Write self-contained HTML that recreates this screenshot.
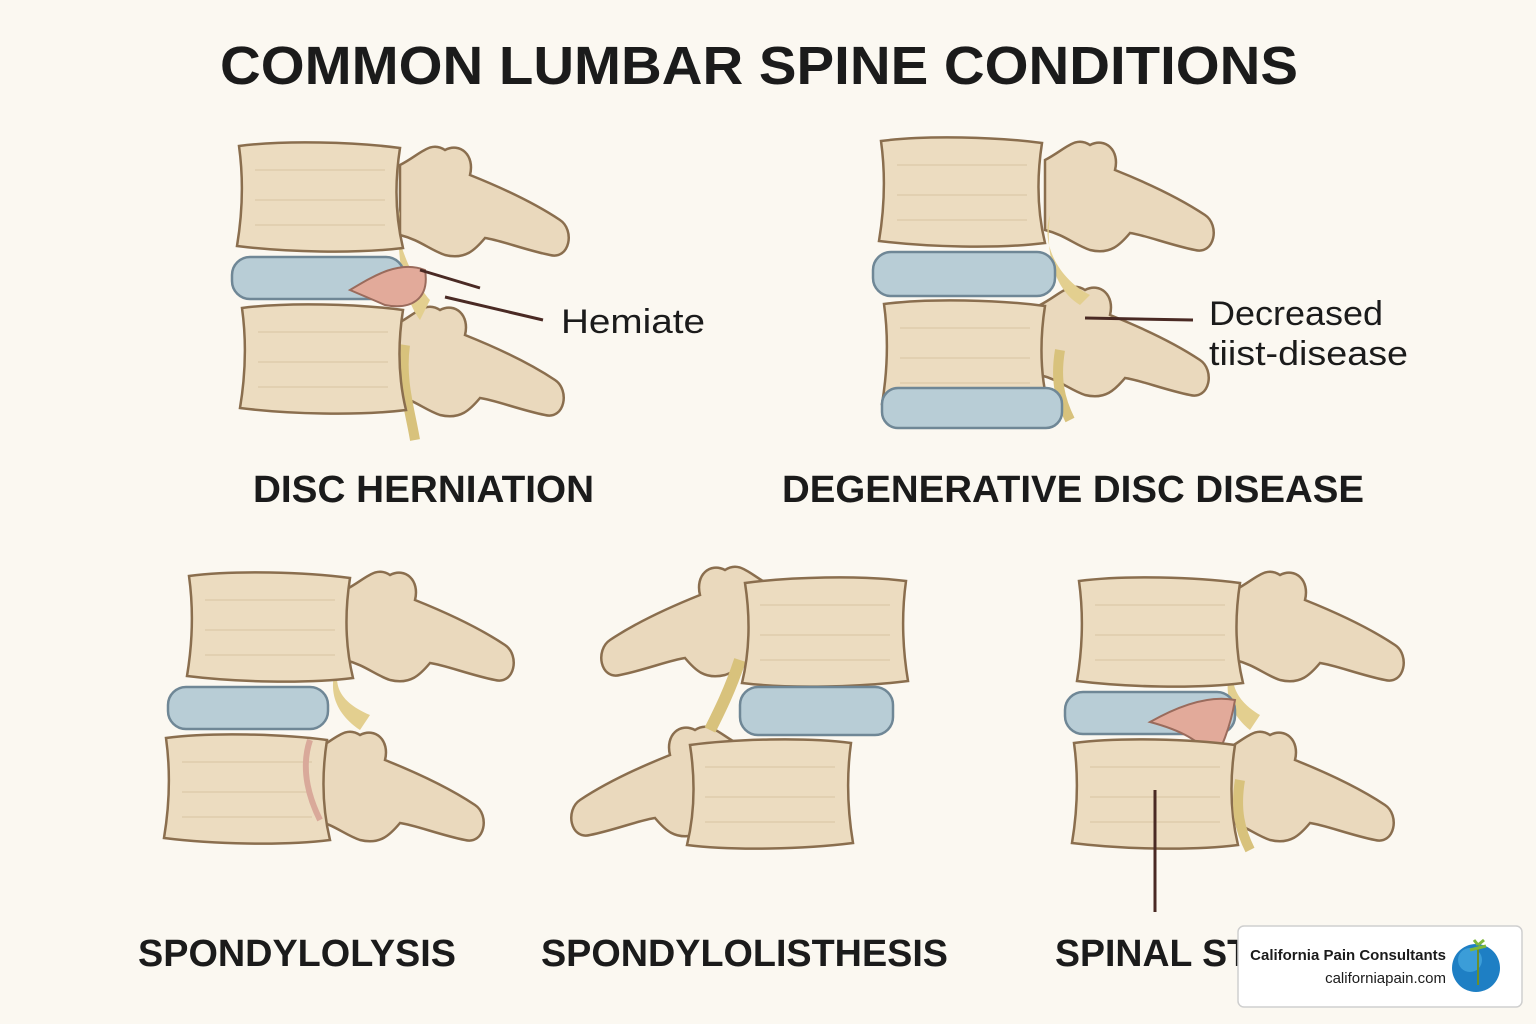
<!DOCTYPE html>
<html><head><meta charset="utf-8"><style>
html,body{margin:0;padding:0;background:#fbf8f1;}
svg{display:block}
text{font-family:"Liberation Sans",sans-serif;fill:#1b1b1b}
</style></head><body>
<svg width="1536" height="1024" viewBox="0 0 1536 1024" xmlns="http://www.w3.org/2000/svg">
<defs>
<g id="post">
 <path d="M0,15 C20,5 30,-10 45,0 C60,-8 75,5 70,25 C95,35 130,50 160,70 C175,80 170,110 150,105 C125,100 100,90 85,88 C75,100 65,110 45,105 C30,100 20,90 0,85 Z" fill="#ead9bd" stroke="#8a6e4e" stroke-width="2.5"/>
</g>
<g id="body">
 <path d="M4,6 C50,0 120,2 165,8 C160,40 160,75 168,108 C120,114 50,112 2,106 C8,70 8,35 4,6 Z" fill="#ecdcc0" stroke="#8a6e4e" stroke-width="2.5"/>
 <path d="M20,30 L150,30 M20,60 L150,60 M20,85 L150,85" stroke="#d8c4a2" stroke-width="1"/>
</g>
</defs>
<rect width="1536" height="1024" fill="#fbf8f1"/>
<text x="220" y="84" font-size="54" font-weight="bold" textLength="1078" lengthAdjust="spacingAndGlyphs">COMMON LUMBAR SPINE CONDITIONS</text>

<!-- Panel 1 -->
<use href="#post" transform="translate(400,150)"/>
<use href="#post" transform="translate(395,310)"/>
<path d="M400,210 C390,240 420,290 430,300 L420,320 C405,300 395,260 400,210Z" fill="#e3cf8f"/>
<path d="M405,345 C400,380 410,410 415,440" stroke="#d8c27c" stroke-width="10" fill="none"/>
<use href="#body" transform="translate(235,140)"/>
<rect x="232" y="257" width="172" height="42" rx="18" fill="#b8cdd6" stroke="#6f8796" stroke-width="2.5"/>
<path d="M350,290 C375,275 400,260 425,270 C430,300 410,310 385,305 Z" fill="#e2aa9a" stroke="#9a6b5c" stroke-width="2"/>
<use href="#body" transform="translate(238,302)"/>
<path d="M420,270 L480,288 M445,297 L543,320" stroke="#4a2a24" stroke-width="3"/>
<text x="561" y="333" font-size="34" textLength="144" lengthAdjust="spacingAndGlyphs">Hemiate</text>
<text x="253" y="502" font-size="38" font-weight="bold" textLength="341" lengthAdjust="spacingAndGlyphs">DISC HERNIATION</text>

<!-- Panel 2 -->
<use href="#post" transform="translate(1045,145)"/>
<use href="#post" transform="translate(1040,290)"/>
<path d="M1050,215 C1040,245 1060,280 1090,295 L1080,305 C1055,290 1045,255 1050,215Z" fill="#e3cf8f"/>
<path d="M1060,350 C1055,380 1060,400 1070,420" stroke="#d8c27c" stroke-width="10" fill="none"/>
<use href="#body" transform="translate(877,135)"/>
<rect x="873" y="252" width="182" height="44" rx="18" fill="#b8cdd6" stroke="#6f8796" stroke-width="2.5"/>
<use href="#body" transform="translate(880,298)"/>
<rect x="882" y="388" width="180" height="40" rx="16" fill="#b8cdd6" stroke="#6f8796" stroke-width="2.5"/>
<path d="M1085,318 L1193,320" stroke="#4a2a24" stroke-width="3"/>
<text x="1209" y="325" font-size="34" textLength="174" lengthAdjust="spacingAndGlyphs">Decreased</text>
<text x="1209" y="365" font-size="34" textLength="199" lengthAdjust="spacingAndGlyphs">tiist-disease</text>
<text x="782" y="502" font-size="38" font-weight="bold" textLength="582" lengthAdjust="spacingAndGlyphs">DEGENERATIVE DISC DISEASE</text>

<!-- Panel 3 -->
<use href="#post" transform="translate(345,575)"/>
<use href="#post" transform="translate(315,735)"/>
<path d="M345,650 C330,680 335,700 370,715 L360,730 C330,710 325,680 345,650Z" fill="#e3cf8f"/>
<use href="#body" transform="translate(185,570)"/>
<rect x="168" y="687" width="160" height="42" rx="18" fill="#b8cdd6" stroke="#6f8796" stroke-width="2.5"/>
<use href="#body" transform="translate(162,732)"/>
<path d="M310,740 C300,770 310,800 320,820" stroke="#d9a99a" stroke-width="6" fill="none"/>
<text x="138" y="966" font-size="38" font-weight="bold" textLength="318" lengthAdjust="spacingAndGlyphs">SPONDYLOLYSIS</text>

<!-- Panel 4 (mirrored) -->
<use href="#post" transform="translate(770,570) scale(-1,1)"/>
<use href="#post" transform="translate(740,730) scale(-1,1)"/>
<path d="M740,660 C730,690 720,710 710,730" stroke="#d8c27c" stroke-width="12" fill="none"/>
<use href="#body" transform="translate(910,575) scale(-1,1)"/>
<rect x="740" y="687" width="153" height="48" rx="18" fill="#b8cdd6" stroke="#6f8796" stroke-width="2.5"/>
<use href="#body" transform="translate(855,737) scale(-1,1)"/>
<text x="541" y="966" font-size="38" font-weight="bold" textLength="407" lengthAdjust="spacingAndGlyphs">SPONDYLOLISTHESIS</text>

<!-- Panel 5 -->
<use href="#post" transform="translate(1235,575)"/>
<use href="#post" transform="translate(1225,735)"/>
<path d="M1240,650 C1225,680 1235,700 1260,715 L1250,730 C1225,710 1220,680 1240,650Z" fill="#e3cf8f"/>
<use href="#body" transform="translate(1075,575)"/>
<rect x="1065" y="692" width="170" height="42" rx="18" fill="#b8cdd6" stroke="#6f8796" stroke-width="2.5"/>
<path d="M1150,722 C1180,705 1210,695 1235,700 C1230,730 1220,750 1215,760 C1200,740 1180,730 1150,722Z" fill="#e2aa9a" stroke="#9a6b5c" stroke-width="2"/>
<use href="#body" transform="translate(1070,737)"/>
<path d="M1240,780 C1235,810 1240,830 1250,850" stroke="#d8c27c" stroke-width="10" fill="none"/>
<path d="M1155,790 L1155,912" stroke="#4a2a24" stroke-width="3"/>
<text x="1055" y="966" font-size="38" font-weight="bold" textLength="195" lengthAdjust="spacingAndGlyphs">SPINAL ST</text>

<!-- Logo box -->
<rect x="1238" y="926" width="284" height="81" rx="6" fill="#ffffff" stroke="#cfcfcf" stroke-width="1.5"/>
<text x="1446" y="960" font-size="15" font-weight="bold" text-anchor="end" fill="#2a2a2a">California Pain Consultants</text>
<text x="1446" y="983" font-size="15" text-anchor="end" fill="#777">californiapain.com</text>
<circle cx="1476" cy="968" r="24" fill="#1e7fc4"/>
<circle cx="1470" cy="960" r="12" fill="#4fb0e6" opacity="0.6"/>
<path d="M1478,948 L1478,985" stroke="#6b8f2a" stroke-width="2"/>
<path d="M1470,950 L1486,946 M1478,945 L1474,940 M1478,945 L1484,940" stroke="#7fb83a" stroke-width="3"/>
</svg>
</body></html>
